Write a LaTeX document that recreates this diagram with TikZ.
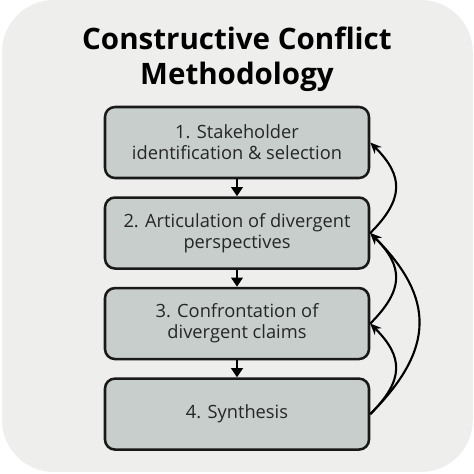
\documentclass[tikz,border=0pt]{standalone}
\usepackage{fontspec}
\setmainfont{Open Sans}
\usetikzlibrary{positioning,arrows.meta}
\definecolor{bggray}{RGB}{238,239,237}
\definecolor{boxgray}{RGB}{200,206,203}
\tikzset{
  stage/.style={draw=black!90, line width=1.8pt, fill=boxgray, rounded corners=0.25cm,
    minimum width=6.6cm, minimum height=1.775cm, align=center, text=black!85,
    font=\fontsize{13}{15}\selectfont},
  flow/.style={-{Triangle[length=2.3mm,width=2.9mm]}, line width=1.5pt},
  back/.style={-{Stealth[length=2.8mm,width=2.4mm]}, line width=1.5pt,
    out=45, in=-45, looseness=1.35}
}
\begin{document}
\begin{tikzpicture}
  \useasboundingbox (0,0) rectangle (11.85,11.85);
  \fill[bggray, rounded corners=1.3cm] (0.05,0.05) rectangle (11.82,11.85);
  \node[font=\bfseries\fontsize{21}{25.5}\selectfont, align=center] (title) at (5.925,10.37)
    {Constructive Conflict\\Methodology};
  \node[stage] (s1) at (5.925,8.2875) {1. Stakeholder\\identification \& selection};
  \node[stage, below=0.425cm of s1] (s2) {2. Articulation of divergent\\perspectives};
  \node[stage, below=0.425cm of s2] (s3) {3. Confrontation of\\divergent claims};
  \node[stage, below=0.425cm of s3] (s4) {4. Synthesis};
  \draw[flow] (s1) -- (s2);
  \draw[flow] (s2) -- (s3);
  \draw[flow] (s3) -- (s4);
  \draw[back] (s2.east) to (s1.east);
  \draw[back] (s3.east) to (s2.east);
  \draw[back, looseness=1.3] (s4.east) to (s2.east);
  \draw[back] (s4.east) to (s3.east);
\end{tikzpicture}
\end{document}
